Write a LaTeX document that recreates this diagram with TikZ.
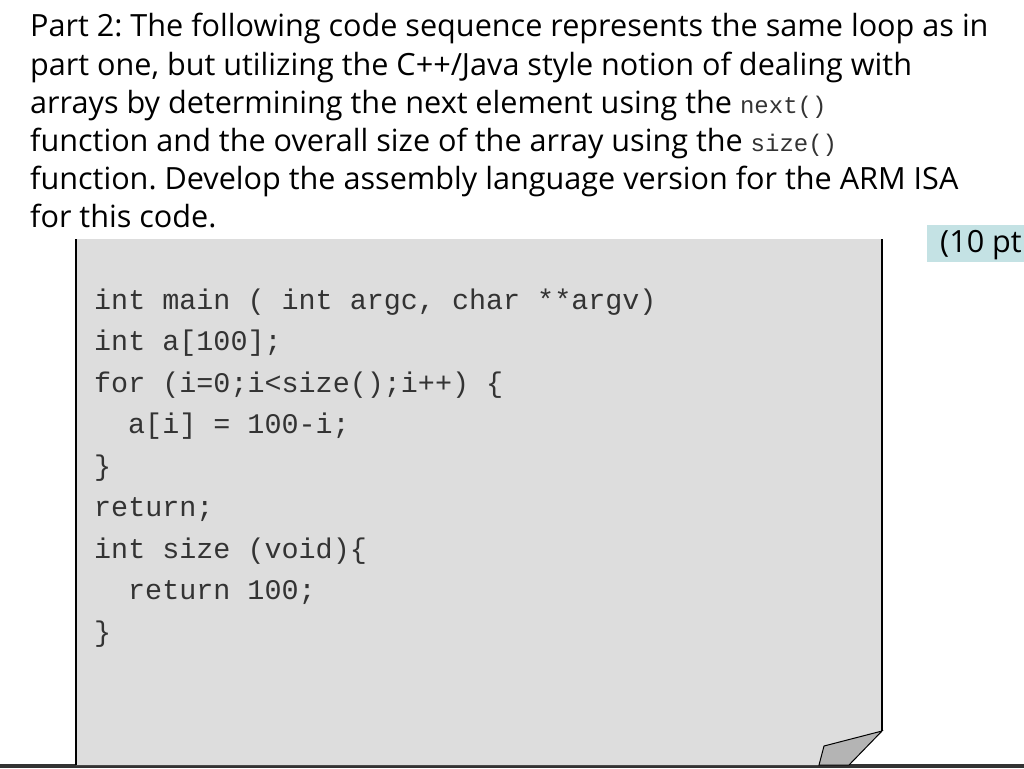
\documentclass[tikz,border=0pt]{standalone}
\usepackage{fontspec}
\setmainfont{Open Sans}
\setmonofont{Liberation Mono}
\frenchspacing
\definecolor{boxgray}{HTML}{DDDDDD}
\definecolor{curlgray}{HTML}{B4B4B4}
\definecolor{codegray}{HTML}{333333}
\definecolor{ptblue}{HTML}{C4E2E4}
\begin{document}
\begin{tikzpicture}[x=1pt,y=-1pt,
  para/.style={anchor=base west,inner sep=0pt,font=\fontsize{30.6}{30}\selectfont},
  code/.style={anchor=base west,inner sep=0pt,text=codegray,font=\ttfamily\fontsize{28.4}{30}\selectfont}]
\useasboundingbox (0,0) rectangle (1024,768);
\fill[black!80] (0,764) rectangle (1024,768);
\fill[boxgray] (76,239) -- (882,239) -- (882,731) -- (849,765) -- (76,765) -- cycle;
\draw[line width=1.2pt] (76,239) -- (76,765);
\draw[line width=1.2pt] (882,239) -- (882,731);
\filldraw[fill=curlgray,line width=1pt] (882,731) -- (824,746) -- (819,765) -- (849,765) -- cycle;
\fill[ptblue] (927,225) rectangle (1024,262);
\node[para] (pt) at (940,252) {(10 pt};
\newcommand{\ic}[1]{{\ttfamily\color{codegray}\fontsize{24}{26}\selectfont #1}}
\node[para] (l1) at (30,37) {Part 2: The following code sequence represents the same loop as in};
\node[para] (l2) at (30,75) {part one, but utilizing the C++/Java style notion of dealing with};
\node[para] (l3) at (30,113) {arrays by determining the next element using the \ic{next()}};
\node[para] (l4) at (30,151) {function and the overall size of the array using the \ic{size()}};
\node[para] (l5) at (30,189) {function. Develop the assembly language version for the ARM ISA};
\node[para] (l6) at (30,227) {for this code.};
\node[code] (c1) at (94,309) {int main ( int argc, char **argv)};
\node[code] (c2) at (94,350) {int a[100];};
\node[code] (c3) at (94,392) {for (i=0;i<size();i++) \{};
\node[code] (c4) at (128,433) {a[i] = 100-i;};
\node[code] (c5) at (94,475) {\}};
\node[code] (c6) at (94,516) {return;};
\node[code] (c7) at (94,558) {int size (void)\{};
\node[code] (c8) at (128,599) {return 100;};
\node[code] (c9) at (94,641) {\}};
\end{tikzpicture}
\end{document}
